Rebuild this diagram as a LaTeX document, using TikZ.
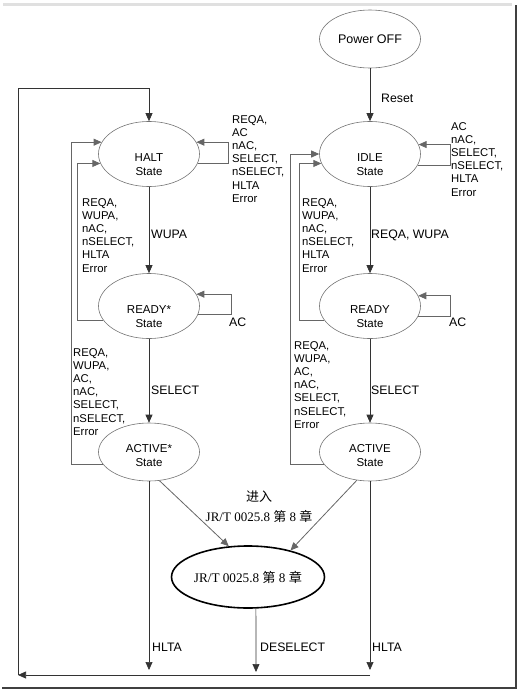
\documentclass[tikz,border=0pt]{standalone}
\usepackage{fontspec}
\setmainfont{Liberation Sans}
\newfontfamily\jrserif{Liberation Serif}
\newfontfamily\cjk{Noto Sans CJK SC}
\usetikzlibrary{shapes.geometric, arrows.meta}
\newcommand\jrtext{\jrserif JR/T 0025.8 {\cjk 第} 8 {\cjk 章}}

\begin{document}
\begin{tikzpicture}[x=1pt, y=-1pt, >={Triangle[length=8pt,width=7pt]},
  state/.style={ellipse, draw=black!55, line width=0.6pt, minimum width=101pt, minimum height=58pt,
                inner sep=0pt, align=center, font=\fontsize{11.5}{14}\selectfont},
  lowtext/.style={text height=44pt, text depth=2pt},
  midtext/.style={text height=30pt, text depth=2pt},
  jrstate/.style={ellipse, draw=black, line width=1.6pt, minimum width=116pt, minimum height=62pt,
                  inner sep=0pt, font=\fontsize{13.2}{14}\selectfont},
  conn/.style={draw=black!80, line width=0.7pt},
  loopconn/.style={draw=black!60, line width=0.8pt},
  conds/.style={align=left, inner sep=0pt, anchor=north west, font=\fontsize{11.3}{13.2}\selectfont},
  edgelbl/.style={inner sep=0pt, anchor=west, font=\fontsize{12.3}{14}\selectfont}]
\useasboundingbox (0,0) rectangle (519,691);

% frame
\draw [black!12, line width=2.5pt] (3,4.5) -- (512,4.5);
\draw [black!75, line width=2pt] (516,5) -- (516,688) -- (2,688);

\node [state, font=\fontsize{12.5}{14}\selectfont] (poweroff) at (370,39) {Power OFF};
\node [state, lowtext] (idle)    at (370,154) {IDLE\\State};
\node [state, lowtext] (halt)    at (149,154) {HALT\\State};
\node [state, lowtext] (readyx)  at (149,306) {READY*\\State};
\node [state, lowtext] (ready)   at (370,306) {READY\\State};
\node [state, midtext] (activex) at (149,452) {ACTIVE*\\State};
\node [state, midtext] (active)  at (370,452) {ACTIVE\\State};
\node [jrstate] (jr) at (248,577) {\jrtext};

\coordinate (bl) at (18,675);
\coordinate (tl) at (18,88);
\coordinate (br) at (370,675);
\coordinate (hltaL) at (149,670);
\coordinate (hltaR) at (370,670);
\coordinate (deselend) at (256,672);

\draw [conn,->] (poweroff) -- (idle);
\draw [conn,->] (halt) -- (readyx);
\draw [conn,->] (readyx) -- (activex);
\draw [conn,->] (idle) -- (ready);
\draw [conn,->] (ready) -- (active);

\draw [loopconn,->] (halt.-11) -- ++(31,0) |- (halt.14);
\draw [loopconn,->] (idle.-13) -- ++(33,0) |- (idle.11);
\draw [loopconn,->] (readyx.-10) -- ++(33,0) |- (readyx.14);
\draw [loopconn,->] (ready.-12) -- ++(32,0) |- (ready.12);

\draw [loopconn,->] (readyx.197) -- ++(-26,0) |- (halt.191);
\draw [loopconn,->] (activex.195) -- ++(-32,0) |- (halt.166);
\draw [loopconn,->] (ready.197) -- ++(-25,0) |- (idle.191);
\draw [loopconn,->] (active.195) -- ++(-34,0) |- (idle.180);

\draw [loopconn,->] (activex.-70) -- (jr.122);
\draw [loopconn,->] (active.-115) -- (jr.32);

\draw [conn,->] (activex) -- (hltaL);
\draw [conn,->] (active) -- (hltaR);
\draw [conn,->] (jr.-76) -- (deselend);
\draw [conn,->] (br) -- (bl);
\draw [conn,->] (bl) -- (tl) -| (halt);

\node [edgelbl] (lreset)  at (381,98)  {Reset};
\node [edgelbl] (lwupa)   at (151,234) {WUPA};
\node [edgelbl] (lselx)   at (151,390) {SELECT};
\node [edgelbl] (lreqwup) at (371,235) {REQA, WUPA};
\node [edgelbl] (lsel)    at (371,390) {SELECT};
\node [edgelbl] (lacx)    at (229,322) {AC};
\node [edgelbl] (lac)     at (449,322) {AC};
\node [edgelbl] (lhltax)  at (152,647) {HLTA};
\node [edgelbl] (ldesel)  at (260,647) {DESELECT};
\node [edgelbl] (lhlta)   at (372,647) {HLTA};

\node [conds] (chalt)   at (232,115) {REQA,\\AC\\nAC,\\SELECT,\\nSELECT,\\HLTA\\Error};
\node [conds] (cidle)   at (451,122) {AC\\nAC,\\SELECT,\\nSELECT,\\HLTA\\Error};
\node [conds] (chaltin) at (82,198)  {REQA,\\WUPA,\\nAC,\\nSELECT,\\HLTA\\Error};
\node [conds] (chaltout) at (73,348) {REQA,\\WUPA,\\AC,\\nAC,\\SELECT,\\nSELECT,\\Error};
\node [conds] (cidlein) at (302,198) {REQA,\\WUPA,\\nAC,\\nSELECT,\\HLTA\\Error};
\node [conds] (cidleout) at (294,341) {REQA,\\WUPA,\\AC,\\nAC,\\SELECT,\\nSELECT,\\Error};

\node [align=center, font=\fontsize{13}{20}\selectfont] (lenter) at (259,507) {{\cjk 进入}\\\jrtext};
\end{tikzpicture}
\end{document}
